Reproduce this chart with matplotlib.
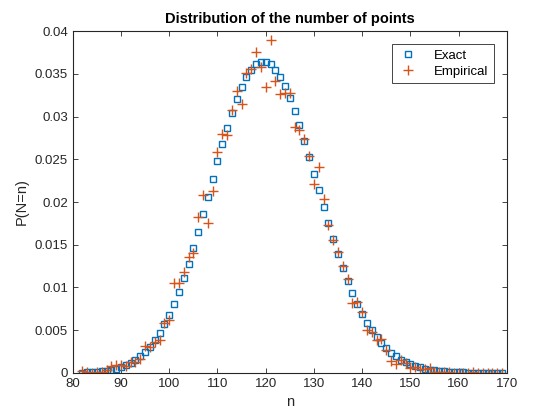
import numpy as np
import matplotlib
matplotlib.use("Agg")
import matplotlib.pyplot as plt

plt.rcParams['font.family'] = ['Liberation Sans', 'DejaVu Sans']

# valeurs
n_exact = list(range(82, 170))
p_exact = [
    0.00005, 0.00007, 0.00010, 0.00015, 0.00020, 0.00028, 0.00038, 0.00052, 0.00069,
    0.00091, 0.00119, 0.00153, 0.00196, 0.00247, 0.00309, 0.00382, 0.00468, 0.00567,
    0.00680, 0.00808, 0.00951, 0.01108, 0.01279, 0.01461, 0.01654, 0.01855, 0.02061,
    0.02269, 0.02476, 0.02676, 0.02868, 0.03045, 0.03205, 0.03345, 0.03460, 0.03549,
    0.03609, 0.03639, 0.03639, 0.03609, 0.03550, 0.03463, 0.03352, 0.03218, 0.03064,
    0.02896, 0.02715, 0.02525, 0.02331, 0.02135, 0.01941, 0.01751, 0.01568, 0.01394,
    0.01230, 0.01078, 0.00937, 0.00809, 0.00693, 0.00590, 0.00499, 0.00419, 0.00349,
    0.00289, 0.00237, 0.00194, 0.00157, 0.00126, 0.00101, 0.00080, 0.00064, 0.00050,
    0.00039, 0.00030, 0.00023, 0.00018, 0.00013, 0.00010, 0.00008, 0.00006, 0.00004,
    0.00003, 0.00002, 0.00002, 0.00001, 0.00001, 0.00001, 0.00000,
]

n_emp = list(range(82, 170))
p_emp = [
    0.0002, 0.0001, 0.0000, 0.0001, 0.00015, 0.0003, 0.0008, 0.0009, 0.0009,
    0.0008, 0.0013, 0.0013, 0.0016, 0.0031, 0.0030, 0.0036, 0.0039, 0.0058,
    0.0062, 0.0105, 0.0105, 0.0118, 0.0136, 0.0140, 0.0182, 0.0208, 0.0175,
    0.0213, 0.0259, 0.0279, 0.0278, 0.0308, 0.0330, 0.0315, 0.0351, 0.0356,
    0.0375, 0.0358, 0.0335, 0.0389, 0.0342, 0.0326, 0.0327, 0.0327, 0.0288,
    0.0284, 0.0274, 0.0254, 0.0221, 0.0241, 0.0204, 0.0173, 0.0156, 0.0141,
    0.0125, 0.0110, 0.0082, 0.0083, 0.0071, 0.0050, 0.0048, 0.0039, 0.0040,
    0.0027, 0.0014, 0.0011, 0.0015, 0.0012, 0.00055, 0.0007, 0.00043, 0.00047,
    0.0006, 0.00015, 0.00015, 0.0001, 0.00015, 0.0000, 0.0000, 0.0000, 0.0000,
    0.00015, 0.0000, 0.0000, 0.0000, 0.0000, 0.0000, 0.0000,
]

x_ticks = [80, 90, 100, 110, 120, 130, 140, 150, 160, 170]
y_ticks = [0, 0.005, 0.01, 0.015, 0.02, 0.025, 0.03, 0.035, 0.04]
y_labels = ['0', '0.005', '0.01', '0.015', '0.02', '0.025', '0.03', '0.035', '0.04']

fig = plt.figure(figsize=(5.6, 4.2), dpi=100)
ax = fig.add_axes([0.13, 0.112, 0.775, 0.814])

ax.plot(n_exact, p_exact, 's', mfc='none', mec='#0072BD', ms=4.7, mew=1.0,
        label='Exact')
ax.plot(n_emp, p_emp, '+', color='#D95319', ms=7, mew=1.0, label='Empirical')

ax.set_xlim(80, 170)
ax.set_ylim(0, 0.04)
ax.set_xticks(x_ticks)
ax.set_yticks(y_ticks)
ax.set_yticklabels(y_labels)

ax.tick_params(direction='in', top=True, right=True, length=3.5, width=0.6,
               labelsize=9.5, colors='#262626')
for sp in ax.spines.values():
    sp.set_linewidth(0.8)
    sp.set_color('#262626')

ax.set_xlabel('n', fontsize=10.5, color='#262626')
ax.set_ylabel('P(N=n)', fontsize=10.5, color='#262626')
ax.set_title('Distribution of the number of points', fontsize=10.5,
             fontweight='bold', color='black')

leg = ax.legend(loc='upper right', fontsize=9.5, fancybox=False,
                edgecolor='#262626', framealpha=1, borderaxespad=1.0,
                handlelength=1.6, handletextpad=1.2, borderpad=0.4,
                labelspacing=0.3)
leg.get_frame().set_linewidth(0.6)

fig.savefig('out.png', dpi=100)
